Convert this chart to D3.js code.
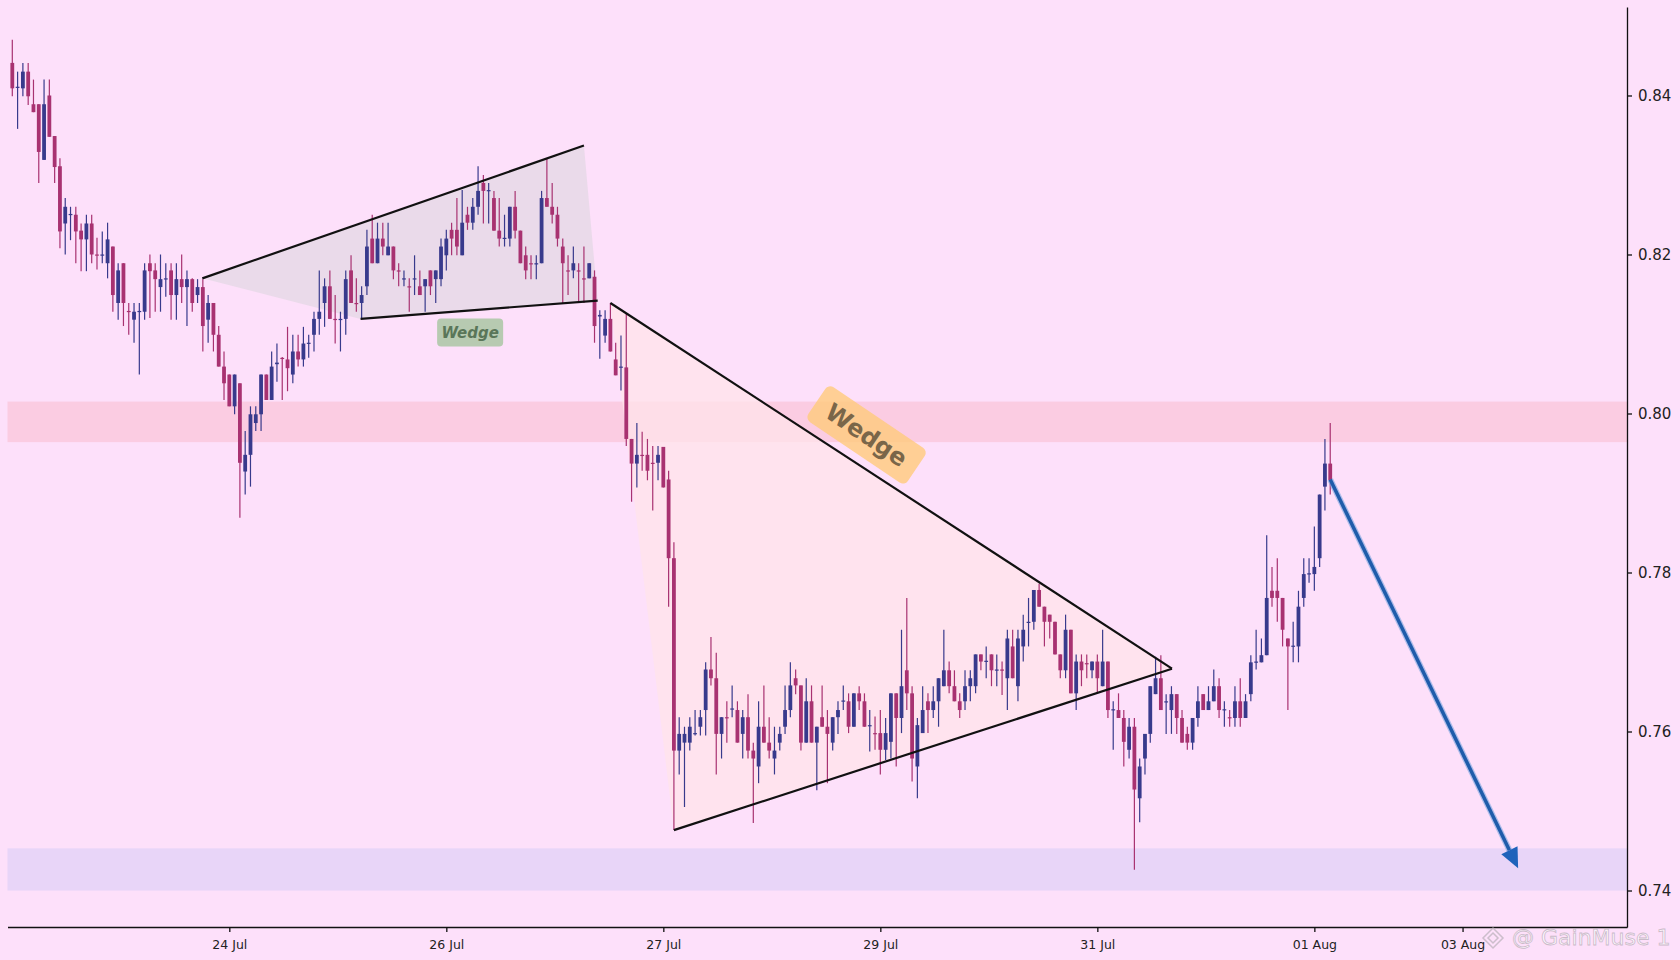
<!DOCTYPE html>
<html>
<head>
<meta charset="utf-8">
<style>
  body { margin: 0; background: #fde0fa; }
  svg { display: block; }
  text { font-family: "DejaVu Sans", sans-serif; }
</style>
</head>
<body>
<script src="https://cdn.jsdelivr.net/npm/d3@7"></script>
<script>
// candle data, one entry per bar (index 0..249)
var opens = [
  .8441,.8410,.8409,.8430,.8389,.8389,.8319,.8400,.8349,.8311,
  .8239,.8250,.8250,.8230,.8219,.8239,.8200,.8199,.8189,.8210,
  .8139,.8189,.8129,.8118,.8128,.8128,.8189,.8180,.8159,.8169,
  .8180,.8149,.8169,.8159,.8169,.8149,.8159,.8118,.8139,.8099,
  .8059,.8049,.8009,.8038,.7927,.7948,.7988,.7999,.8049,.8017,
  .8062,.8070,.8068,.8049,.8078,.8068,.8088,.8099,.8119,.8139,
  .8160,.8119,.8118,.8119,.8180,.8139,.8139,.8160,.8220,.8189,
  .8220,.8199,.8210,.8180,.8169,.8160,.8169,.8160,.8160,.8180,
  .8169,.8169,.8199,.8231,.8231,.8199,.8250,.8240,.8260,.8290,
  .8280,.8271,.8230,.8220,.8220,.8260,.8230,.8199,.8189,.8188,
  .8189,.8271,.8260,.8250,.8210,.8180,.8180,.8180,.8170,.8170,
  .8172,.8122,.8098,.8119,.8068,.8058,.8058,.7968,.7937,.7948,
  .7948,.7938,.7938,.7958,.7917,.7818,.7576,.7586,.7586,.7597,
  .7606,.7627,.7678,.7667,.7597,.7618,.7628,.7627,.7597,.7618,
  .7576,.7556,.7606,.7586,.7566,.7586,.7606,.7627,.7667,.7658,
  .7586,.7638,.7586,.7618,.7606,.7586,.7618,.7638,.7638,.7606,
  .7648,.7638,.7607,.7598,.7598,.7577,.7587,.7648,.7617,.7677,
  .7648,.7556,.7598,.7638,.7627,.7638,.7657,.7677,.7657,.7638,
  .7638,.7657,.7657,.7697,.7688,.7697,.7677,.7678,.7667,.7707,
  .7657,.7707,.7737,.7738,.7778,.7757,.7747,.7738,.7697,.7677,
  .7728,.7648,.7688,.7686,.7677,.7688,.7657,.7688,.7627,.7627,
  .7617,.7577,.7606,.7516,.7566,.7597,.7647,.7667,.7637,.7627,
  .7647,.7617,.7597,.7586,.7617,.7647,.7627,.7638,.7657,.7627,
  .7618,.7617,.7638,.7617,.7647,.7687,.7687,.7696,.7777,.7777,
  .7768,.7717,.7707,.7707,.7768,.7798,.7798,.7818,.7908,.7937
];
var highs = [
  .8470,.8430,.8441,.8441,.8420,.8389,.8420,.8420,.8349,.8321,
  .8271,.8260,.8260,.8239,.8250,.8250,.8221,.8229,.8240,.8210,
  .8189,.8189,.8139,.8139,.8139,.8189,.8200,.8189,.8200,.8189,
  .8189,.8189,.8200,.8180,.8170,.8169,.8169,.8149,.8139,.8110,
  .8078,.8049,.8049,.8038,.7978,.8009,.8009,.8049,.8049,.8078,
  .8088,.8071,.8109,.8099,.8099,.8109,.8099,.8128,.8180,.8170,
  .8180,.8149,.8128,.8180,.8199,.8170,.8160,.8231,.8250,.8240,
  .8240,.8240,.8210,.8189,.8180,.8170,.8199,.8180,.8169,.8180,
  .8180,.8220,.8231,.8240,.8271,.8281,.8260,.8271,.8311,.8300,
  .8290,.8280,.8271,.8250,.8260,.8280,.8230,.8210,.8199,.8199,
  .8280,.8321,.8290,.8260,.8220,.8199,.8210,.8189,.8210,.8189,
  .8180,.8130,.8130,.8139,.8089,.8098,.8125,.7968,.7988,.7977,
  .7968,.7959,.7959,.7958,.7928,.7838,.7618,.7606,.7618,.7627,
  .7627,.7687,.7719,.7699,.7618,.7638,.7658,.7638,.7627,.7647,
  .7586,.7638,.7658,.7618,.7606,.7606,.7658,.7687,.7678,.7658,
  .7667,.7658,.7606,.7658,.7627,.7618,.7638,.7658,.7648,.7648,
  .7657,.7648,.7627,.7619,.7627,.7617,.7648,.7648,.7728,.7768,
  .7657,.7617,.7657,.7648,.7657,.7667,.7728,.7688,.7677,.7648,
  .7677,.7677,.7697,.7697,.7707,.7697,.7697,.7688,.7728,.7728,
  .7728,.7747,.7768,.7778,.7786,.7757,.7747,.7738,.7697,.7747,
  .7728,.7697,.7697,.7697,.7688,.7697,.7728,.7688,.7638,.7648,
  .7627,.7617,.7617,.7566,.7597,.7657,.7694,.7696,.7647,.7657,
  .7647,.7627,.7606,.7617,.7657,.7647,.7657,.7678,.7667,.7638,
  .7627,.7657,.7667,.7647,.7696,.7728,.7717,.7847,.7807,.7818,
  .7768,.7717,.7738,.7777,.7818,.7818,.7858,.7898,.7968,.7988
];
var lows = [
  .8399,.8358,.8399,.8388,.8379,.8290,.8319,.8348,.8290,.8208,
  .8200,.8218,.8189,.8179,.8179,.8189,.8181,.8189,.8170,.8128,
  .8118,.8110,.8099,.8089,.8049,.8118,.8120,.8128,.8128,.8147,
  .8118,.8118,.8139,.8110,.8128,.8139,.8078,.8089,.8078,.8059,
  .8017,.8009,.7999,.7869,.7898,.7908,.7978,.7978,.8017,.8017,
  .8040,.8017,.8028,.8038,.8059,.8059,.8070,.8078,.8099,.8109,
  .8119,.8088,.8078,.8099,.8139,.8128,.8119,.8149,.8189,.8189,
  .8199,.8199,.8169,.8160,.8160,.8128,.8149,.8149,.8128,.8149,
  .8139,.8160,.8180,.8199,.8199,.8199,.8231,.8231,.8250,.8239,
  .8239,.8230,.8210,.8210,.8210,.8220,.8189,.8169,.8169,.8169,
  .8189,.8260,.8239,.8210,.8139,.8149,.8170,.8139,.8139,.8170,
  .8089,.8069,.8089,.8078,.8048,.8029,.7959,.7889,.7907,.7928,
  .7916,.7878,.7916,.7907,.7757,.7476,.7546,.7505,.7576,.7595,
  .7595,.7595,.7658,.7546,.7566,.7586,.7618,.7586,.7566,.7566,
  .7485,.7535,.7586,.7566,.7546,.7576,.7597,.7618,.7647,.7576,
  .7586,.7586,.7526,.7606,.7535,.7576,.7597,.7627,.7598,.7606,
  .7627,.7606,.7575,.7577,.7546,.7564,.7566,.7556,.7598,.7627,
  .7537,.7516,.7598,.7598,.7617,.7606,.7657,.7648,.7638,.7617,
  .7627,.7638,.7648,.7677,.7667,.7657,.7657,.7646,.7627,.7667,
  .7638,.7688,.7707,.7728,.7757,.7707,.7717,.7697,.7667,.7667,
  .7648,.7627,.7657,.7667,.7667,.7648,.7657,.7617,.7577,.7617,
  .7556,.7566,.7426,.7486,.7546,.7586,.7647,.7627,.7597,.7597,
  .7597,.7586,.7577,.7577,.7606,.7627,.7627,.7638,.7617,.7606,
  .7606,.7606,.7606,.7617,.7638,.7678,.7687,.7696,.7757,.7738,
  .7707,.7627,.7687,.7687,.7757,.7787,.7777,.7807,.7878,.7898
];
var closes = [
  .8409,.8411,.8430,.8399,.8379,.8329,.8389,.8348,.8310,.8229,
  .8260,.8251,.8229,.8219,.8239,.8200,.8199,.8200,.8219,.8149,
  .8180,.8139,.8128,.8128,.8129,.8180,.8179,.8169,.8169,.8170,
  .8149,.8169,.8159,.8169,.8139,.8159,.8110,.8139,.8099,.8059,
  .8038,.8009,.8049,.7938,.7948,.7999,.7999,.8049,.8017,.8059,
  .8064,.8069,.8057,.8078,.8068,.8088,.8089,.8119,.8128,.8160,
  .8119,.8118,.8119,.8169,.8139,.8138,.8149,.8210,.8189,.8220,
  .8210,.8210,.8180,.8179,.8170,.8159,.8170,.8149,.8169,.8160,
  .8180,.8210,.8220,.8220,.8210,.8240,.8240,.8260,.8280,.8280,
  .8281,.8230,.8220,.8221,.8260,.8230,.8189,.8180,.8188,.8189,
  .8271,.8260,.8250,.8220,.8189,.8179,.8189,.8179,.8169,.8189,
  .8110,.8124,.8119,.8078,.8048,.8059,.7968,.7937,.7948,.7947,
  .7928,.7937,.7948,.7907,.7818,.7576,.7597,.7597,.7606,.7598,
  .7618,.7678,.7667,.7597,.7618,.7617,.7629,.7586,.7618,.7576,
  .7566,.7606,.7586,.7576,.7576,.7597,.7627,.7658,.7658,.7586,
  .7638,.7586,.7606,.7606,.7597,.7618,.7627,.7639,.7606,.7648,
  .7638,.7606,.7608,.7597,.7577,.7598,.7648,.7617,.7657,.7648,
  .7566,.7608,.7627,.7627,.7638,.7667,.7677,.7657,.7638,.7627,
  .7657,.7667,.7697,.7688,.7689,.7677,.7678,.7677,.7717,.7667,
  .7717,.7728,.7738,.7778,.7757,.7738,.7738,.7697,.7677,.7728,
  .7648,.7688,.7677,.7685,.7688,.7667,.7688,.7627,.7628,.7617,
  .7587,.7606,.7527,.7556,.7597,.7657,.7667,.7627,.7638,.7647,
  .7617,.7586,.7586,.7617,.7638,.7627,.7638,.7657,.7627,.7628,
  .7617,.7638,.7617,.7638,.7687,.7688,.7696,.7768,.7768,.7768,
  .7728,.7707,.7708,.7757,.7798,.7799,.7807,.7898,.7937,.7916
];

// axis ticks (bar index positions for the dates)
var xTickPos = [41, 82, 123, 164, 205, 246, 274];
var xTickLabels = ["24 Jul", "26 Jul", "27 Jul", "29 Jul", "31 Jul", "01 Aug", "03 Aug"];
var yTicks = [0.74, 0.76, 0.78, 0.80, 0.82, 0.84];

// zones (price ranges)
var resistanceZone = [0.7964, 0.8015];
var supportZone = [0.7400, 0.7453];

// pattern outlines as [bar index, price]
var smallWedge = [[35.9, 0.8170], [108.0, 0.8337], [110.6, 0.8142], [65.8, 0.8119]];
var bigWedge = [[113.0, 0.8139], [219.1, 0.7679], [125.0, 0.7476]];
var forecast = [[249, 0.7917], [284.5, 0.7428]];
var smallLabelAt = [86.5, 0.8102];
var bigLabelAt = [161.4, 0.7973];

var W = 1680, H = 960;
var svg = d3.select("body").append("svg").attr("width", W).attr("height", H);
svg.append("rect").attr("width", W).attr("height", H).attr("fill", "#fde0fa");

var x = d3.scaleLinear().domain([-0.907, 305.07]).range([7.5, 1627]);
var y = d3.scaleLinear().domain([0.73541, 0.85113]).range([927, 7]);

// zones
function band(z, col, op) {
  svg.append("rect")
    .attr("x", 7.5).attr("width", 1627 - 7.5)
    .attr("y", y(z[1])).attr("height", y(z[0]) - y(z[1]))
    .attr("fill", col).attr("opacity", op);
}
band(resistanceZone, "#f9b0c0", 0.42);
band(supportZone, "#c8c6f4", 0.4);

// pattern fills
var pt = function(d) { return x(d[0]) + "," + y(d[1]); };
svg.append("polygon")
  .attr("points", smallWedge.map(pt).join(" "))
  .attr("fill", "#ddd6e0").attr("opacity", 0.6);
svg.append("polygon")
  .attr("points", bigWedge.map(pt).join(" "))
  .attr("fill", "#ffe4ea").attr("opacity", 0.75);

// candles
var idx = d3.range(opens.length);
var bodyW = 3.8;
var up = "#383a8c", down = "#a83271";
var g = svg.append("g");
g.selectAll("line.wick").data(idx).join("line")
  .attr("x1", i => x(i)).attr("x2", i => x(i))
  .attr("y1", i => y(highs[i])).attr("y2", i => y(lows[i]))
  .attr("stroke", i => closes[i] >= opens[i] ? up : down)
  .attr("stroke-width", 1.2);
g.selectAll("rect.body").data(idx).join("rect")
  .attr("x", i => x(i) - bodyW / 2).attr("width", bodyW)
  .attr("y", i => y(Math.max(opens[i], closes[i])))
  .attr("height", i => Math.max(1.2, Math.abs(y(opens[i]) - y(closes[i]))))
  .attr("fill", i => closes[i] >= opens[i] ? up : down);

// pattern lines
function seg(a, b) {
  svg.append("line")
    .attr("x1", x(a[0])).attr("y1", y(a[1]))
    .attr("x2", x(b[0])).attr("y2", y(b[1]))
    .attr("stroke", "#111").attr("stroke-width", 2.2);
}
seg(smallWedge[0], smallWedge[1]);
seg(smallWedge[3], smallWedge[2]);
seg(bigWedge[0], bigWedge[1]);
seg(bigWedge[2], bigWedge[1]);

// labels
var sl = svg.append("g").attr("transform", "translate(" + x(smallLabelAt[0]) + "," + y(smallLabelAt[1]) + ")");
sl.append("rect").attr("x", -33).attr("y", -14).attr("width", 66).attr("height", 28).attr("rx", 4)
  .attr("fill", "#9fc398").attr("opacity", 0.75);
sl.append("text").attr("text-anchor", "middle").attr("dy", "0.35em")
  .attr("font-size", 15).attr("font-weight", "bold").attr("font-style", "italic")
  .attr("fill", "#5a7659").text("Wedge");

var bl = svg.append("g").attr("transform", "translate(" + x(bigLabelAt[0]) + "," + y(bigLabelAt[1]) + ") rotate(34)");
bl.append("rect").attr("x", -60).attr("y", -21).attr("width", 120).attr("height", 42).attr("rx", 6)
  .attr("fill", "#ffca7c").attr("opacity", 0.8);
bl.append("text").attr("text-anchor", "middle").attr("dy", "0.35em")
  .attr("font-size", 24).attr("font-weight", "bold")
  .attr("fill", "#7a6649").text("Wedge");

// forecast arrow
var ax0 = x(forecast[0][0]), ay0 = y(forecast[0][1]);
var ax1 = x(forecast[1][0]), ay1 = y(forecast[1][1]);
var ang = Math.atan2(ay1 - ay0, ax1 - ax0);
var headL = 20, headW = 9;
var bx = ax1 - headL * Math.cos(ang), by = ay1 - headL * Math.sin(ang);
svg.append("line").attr("x1", ax0).attr("y1", ay0).attr("x2", bx).attr("y2", by)
  .attr("stroke", "#7aa6e0").attr("stroke-width", 6).attr("opacity", 0.6);
svg.append("line").attr("x1", ax0).attr("y1", ay0).attr("x2", bx).attr("y2", by)
  .attr("stroke", "#1f5cab").attr("stroke-width", 3.5);
svg.append("polygon")
  .attr("points", [
    [ax1, ay1],
    [bx + headW * Math.sin(ang), by - headW * Math.cos(ang)],
    [bx - headW * Math.sin(ang), by + headW * Math.cos(ang)]
  ].map(p => p.join(",")).join(" "))
  .attr("fill", "#1f63bb");

// axes
var yAxis = svg.append("g").attr("transform", "translate(1627,0)")
  .call(d3.axisRight(y).tickValues(yTicks).tickFormat(d3.format(".2f")).tickSize(5).tickPadding(6).tickSizeOuter(0));
yAxis.selectAll("text").attr("font-size", 15).attr("fill", "#222").style("font-family", "DejaVu Sans");
yAxis.selectAll("line, path").attr("stroke", "#111").attr("stroke-width", 1.3);

var xAxis = svg.append("g").attr("transform", "translate(0,927)")
  .call(d3.axisBottom(x).tickValues(xTickPos).tickFormat((d, i) => xTickLabels[i]).tickSize(5).tickPadding(8).tickSizeOuter(0));
xAxis.selectAll("text").attr("font-size", 12.5).attr("fill", "#222").style("font-family", "DejaVu Sans");
xAxis.selectAll("line, path").attr("stroke", "#111").attr("stroke-width", 1.3);

// watermark
var wm = svg.append("g").attr("opacity", 0.75);
wm.append("path")
  .attr("d", "M1493,928 l10,10 l-10,10 l-10,-10 z M1493,933 l5,5 l-5,5 l-5,-5 z")
  .attr("fill", "none").attr("stroke", "#bdb3bd").attr("stroke-width", 1.5);
wm.append("text").attr("x", 1512).attr("y", 945)
  .attr("font-size", 22).attr("fill", "#ffffff")
  .attr("stroke", "#b9aeb9").attr("stroke-width", 0.8)
  .text("@ GainMuse 1");
</script>
</body>
</html>
